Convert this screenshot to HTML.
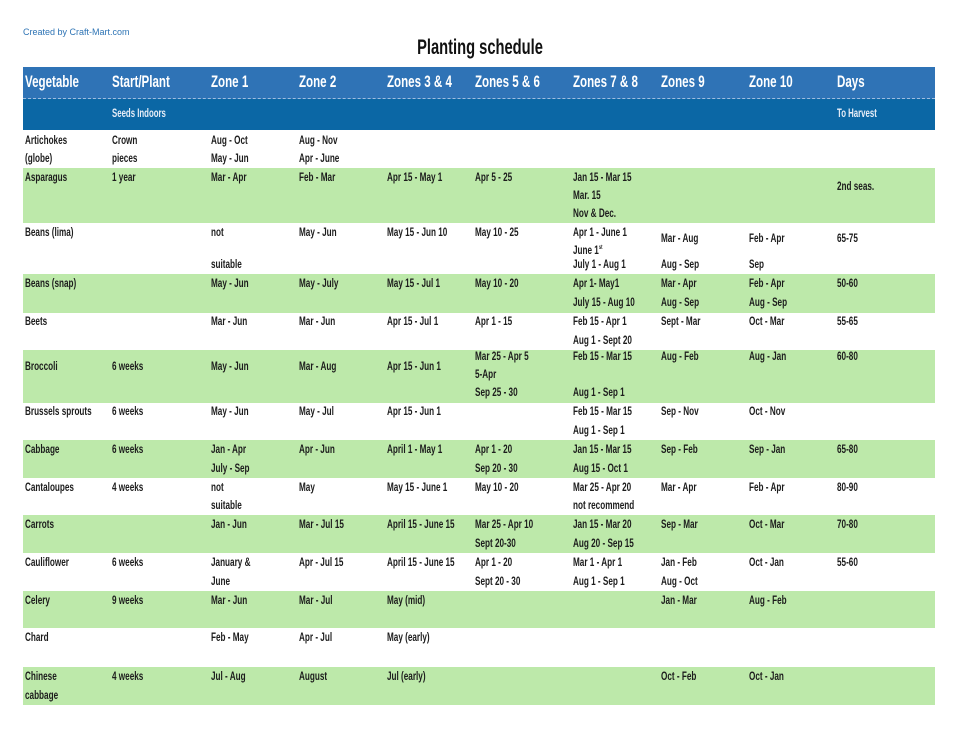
<!DOCTYPE html>
<html><head><meta charset="utf-8"><style>
body{margin:0;width:960px;height:742px;background:#fff;position:relative;overflow:hidden;font-family:"Liberation Sans Narrow","Liberation Sans",sans-serif;}
.a{position:absolute;}
.t,.h,.s{transform:scaleX(0.68);transform-origin:0 0}
.t{position:absolute;font-weight:bold;font-size:12px;line-height:14px;color:#1c1c1c;white-space:nowrap}
.h{position:absolute;font-weight:bold;font-size:17px;line-height:18px;color:#fff;white-space:nowrap}
.s{position:absolute;font-weight:bold;font-size:11.5px;line-height:14px;color:#e8eef8;white-space:nowrap}
.g{position:absolute;left:23px;width:912px;background:#bde9aa}
</style></head><body>
<div class="a" style="left:23px;top:27px;font-family:'Liberation Sans',sans-serif;font-size:9px;color:#2e74b5">Created by Craft-Mart.com</div>
<div class="a" style="left:0;width:960px;top:36px;text-align:center;font-weight:bold;font-size:21px;color:#111;transform:scaleX(0.7)">Planting schedule</div>
<div class="a" style="left:23px;top:67px;width:912px;height:32px;background:#2f73b6"></div>
<div class="a" style="left:23px;top:99px;width:912px;height:31px;background:#0b67a5"></div>
<div class="a" style="left:23px;top:98px;width:912px;border-top:1px dashed #9fbde0"></div>
<div class="h" style="left:25px;top:73px">Vegetable</div>
<div class="h" style="left:112px;top:73px">Start/Plant</div>
<div class="h" style="left:211px;top:73px">Zone 1</div>
<div class="h" style="left:299px;top:73px">Zone 2</div>
<div class="h" style="left:387px;top:73px">Zones 3 &amp; 4</div>
<div class="h" style="left:475px;top:73px">Zones 5 &amp; 6</div>
<div class="h" style="left:573px;top:73px">Zones 7 &amp; 8</div>
<div class="h" style="left:661px;top:73px">Zones 9</div>
<div class="h" style="left:749px;top:73px">Zone 10</div>
<div class="h" style="left:837px;top:73px">Days</div>
<div class="s" style="left:112px;top:107px">Seeds Indoors</div>
<div class="s" style="left:837px;top:107px">To Harvest</div>

<div class="g" style="top:168px;height:55px"></div>
<div class="g" style="top:274px;height:39px"></div>
<div class="g" style="top:350px;height:53px"></div>
<div class="g" style="top:440px;height:38px"></div>
<div class="g" style="top:515px;height:38px"></div>
<div class="g" style="top:591px;height:37px"></div>
<div class="g" style="top:667px;height:38px"></div>

<div class="t" style="left:25px;top:133px">Artichokes</div><div class="t" style="left:25px;top:151px">(globe)</div>
<div class="t" style="left:112px;top:133px">Crown</div><div class="t" style="left:112px;top:151px">pieces</div>
<div class="t" style="left:211px;top:133px">Aug - Oct</div><div class="t" style="left:211px;top:151px">May - Jun</div>
<div class="t" style="left:299px;top:133px">Aug - Nov</div><div class="t" style="left:299px;top:151px">Apr - June</div>

<div class="t" style="left:25px;top:170px">Asparagus</div>
<div class="t" style="left:112px;top:170px">1 year</div>
<div class="t" style="left:211px;top:170px">Mar - Apr</div>
<div class="t" style="left:299px;top:170px">Feb - Mar</div>
<div class="t" style="left:387px;top:170px">Apr 15 - May 1</div>
<div class="t" style="left:475px;top:170px">Apr 5 - 25</div>
<div class="t" style="left:573px;top:170px">Jan 15 - Mar 15</div>
<div class="t" style="left:573px;top:188px">Mar. 15</div>
<div class="t" style="left:573px;top:206px">Nov &amp; Dec.</div>
<div class="t" style="left:837px;top:179px">2nd seas.</div>

<div class="t" style="left:25px;top:225px">Beans (lima)</div>
<div class="t" style="left:211px;top:225px">not</div><div class="t" style="left:211px;top:257px">suitable</div>
<div class="t" style="left:299px;top:225px">May - Jun</div>
<div class="t" style="left:387px;top:225px">May 15 - Jun 10</div>
<div class="t" style="left:475px;top:225px">May 10 - 25</div>
<div class="t" style="left:573px;top:225px">Apr 1 - June 1</div>
<div class="t" style="left:573px;top:241px">June 1<sup style="font-size:6px">st</sup></div>
<div class="t" style="left:573px;top:257px">July 1 - Aug 1</div>
<div class="t" style="left:661px;top:231px">Mar - Aug</div><div class="t" style="left:661px;top:257px">Aug - Sep</div>
<div class="t" style="left:749px;top:231px">Feb - Apr</div><div class="t" style="left:749px;top:257px">Sep</div>
<div class="t" style="left:837px;top:231px">65-75</div>

<div class="t" style="left:25px;top:276px">Beans (snap)</div>
<div class="t" style="left:211px;top:276px">May - Jun</div>
<div class="t" style="left:299px;top:276px">May - July</div>
<div class="t" style="left:387px;top:276px">May 15 - Jul 1</div>
<div class="t" style="left:475px;top:276px">May 10 - 20</div>
<div class="t" style="left:573px;top:276px">Apr 1- May1</div><div class="t" style="left:573px;top:295px">July 15 - Aug 10</div>
<div class="t" style="left:661px;top:276px">Mar - Apr</div><div class="t" style="left:661px;top:295px">Aug - Sep</div>
<div class="t" style="left:749px;top:276px">Feb - Apr</div><div class="t" style="left:749px;top:295px">Aug - Sep</div>
<div class="t" style="left:837px;top:276px">50-60</div>

<div class="t" style="left:25px;top:314px">Beets</div>
<div class="t" style="left:211px;top:314px">Mar - Jun</div>
<div class="t" style="left:299px;top:314px">Mar - Jun</div>
<div class="t" style="left:387px;top:314px">Apr 15 - Jul 1</div>
<div class="t" style="left:475px;top:314px">Apr 1 - 15</div>
<div class="t" style="left:573px;top:314px">Feb 15 - Apr 1</div><div class="t" style="left:573px;top:333px">Aug 1 - Sept 20</div>
<div class="t" style="left:661px;top:314px">Sept - Mar</div>
<div class="t" style="left:749px;top:314px">Oct - Mar</div>
<div class="t" style="left:837px;top:314px">55-65</div>

<div class="t" style="left:25px;top:359px">Broccoli</div>
<div class="t" style="left:112px;top:359px">6 weeks</div>
<div class="t" style="left:211px;top:359px">May - Jun</div>
<div class="t" style="left:299px;top:359px">Mar - Aug</div>
<div class="t" style="left:387px;top:359px">Apr 15 - Jun 1</div>
<div class="t" style="left:475px;top:349px">Mar 25 - Apr 5</div>
<div class="t" style="left:475px;top:367px">5-Apr</div>
<div class="t" style="left:475px;top:385px">Sep 25 - 30</div>
<div class="t" style="left:573px;top:349px">Feb 15 - Mar 15</div><div class="t" style="left:573px;top:385px">Aug 1 - Sep 1</div>
<div class="t" style="left:661px;top:349px">Aug - Feb</div>
<div class="t" style="left:749px;top:349px">Aug - Jan</div>
<div class="t" style="left:837px;top:349px">60-80</div>

<div class="t" style="left:25px;top:404px">Brussels sprouts</div>
<div class="t" style="left:112px;top:404px">6 weeks</div>
<div class="t" style="left:211px;top:404px">May - Jun</div>
<div class="t" style="left:299px;top:404px">May - Jul</div>
<div class="t" style="left:387px;top:404px">Apr 15 - Jun 1</div>
<div class="t" style="left:573px;top:404px">Feb 15 - Mar 15</div><div class="t" style="left:573px;top:423px">Aug 1 - Sep 1</div>
<div class="t" style="left:661px;top:404px">Sep - Nov</div>
<div class="t" style="left:749px;top:404px">Oct - Nov</div>

<div class="t" style="left:25px;top:442px">Cabbage</div>
<div class="t" style="left:112px;top:442px">6 weeks</div>
<div class="t" style="left:211px;top:442px">Jan - Apr</div><div class="t" style="left:211px;top:461px">July - Sep</div>
<div class="t" style="left:299px;top:442px">Apr - Jun</div>
<div class="t" style="left:387px;top:442px">April 1 - May 1</div>
<div class="t" style="left:475px;top:442px">Apr 1 - 20</div><div class="t" style="left:475px;top:461px">Sep 20 - 30</div>
<div class="t" style="left:573px;top:442px">Jan 15 - Mar 15</div><div class="t" style="left:573px;top:461px">Aug 15 - Oct 1</div>
<div class="t" style="left:661px;top:442px">Sep - Feb</div>
<div class="t" style="left:749px;top:442px">Sep - Jan</div>
<div class="t" style="left:837px;top:442px">65-80</div>

<div class="t" style="left:25px;top:480px">Cantaloupes</div>
<div class="t" style="left:112px;top:480px">4 weeks</div>
<div class="t" style="left:211px;top:480px">not</div><div class="t" style="left:211px;top:498px">suitable</div>
<div class="t" style="left:299px;top:480px">May</div>
<div class="t" style="left:387px;top:480px">May 15 - June 1</div>
<div class="t" style="left:475px;top:480px">May 10 - 20</div>
<div class="t" style="left:573px;top:480px">Mar 25 - Apr 20</div><div class="t" style="left:573px;top:498px">not recommend</div>
<div class="t" style="left:661px;top:480px">Mar - Apr</div>
<div class="t" style="left:749px;top:480px">Feb - Apr</div>
<div class="t" style="left:837px;top:480px">80-90</div>

<div class="t" style="left:25px;top:517px">Carrots</div>
<div class="t" style="left:211px;top:517px">Jan - Jun</div>
<div class="t" style="left:299px;top:517px">Mar - Jul 15</div>
<div class="t" style="left:387px;top:517px">April 15 - June 15</div>
<div class="t" style="left:475px;top:517px">Mar 25 - Apr 10</div><div class="t" style="left:475px;top:536px">Sept 20-30</div>
<div class="t" style="left:573px;top:517px">Jan 15 - Mar 20</div><div class="t" style="left:573px;top:536px">Aug 20 - Sep 15</div>
<div class="t" style="left:661px;top:517px">Sep - Mar</div>
<div class="t" style="left:749px;top:517px">Oct - Mar</div>
<div class="t" style="left:837px;top:517px">70-80</div>

<div class="t" style="left:25px;top:555px">Cauliflower</div>
<div class="t" style="left:112px;top:555px">6 weeks</div>
<div class="t" style="left:211px;top:555px">January &amp;</div><div class="t" style="left:211px;top:574px">June</div>
<div class="t" style="left:299px;top:555px">Apr - Jul 15</div>
<div class="t" style="left:387px;top:555px">April 15 - June 15</div>
<div class="t" style="left:475px;top:555px">Apr 1 - 20</div><div class="t" style="left:475px;top:574px">Sept 20 - 30</div>
<div class="t" style="left:573px;top:555px">Mar 1 - Apr 1</div><div class="t" style="left:573px;top:574px">Aug 1 - Sep 1</div>
<div class="t" style="left:661px;top:555px">Jan - Feb</div><div class="t" style="left:661px;top:574px">Aug - Oct</div>
<div class="t" style="left:749px;top:555px">Oct - Jan</div>
<div class="t" style="left:837px;top:555px">55-60</div>

<div class="t" style="left:25px;top:593px">Celery</div>
<div class="t" style="left:112px;top:593px">9 weeks</div>
<div class="t" style="left:211px;top:593px">Mar - Jun</div>
<div class="t" style="left:299px;top:593px">Mar - Jul</div>
<div class="t" style="left:387px;top:593px">May (mid)</div>
<div class="t" style="left:661px;top:593px">Jan - Mar</div>
<div class="t" style="left:749px;top:593px">Aug - Feb</div>

<div class="t" style="left:25px;top:630px">Chard</div>
<div class="t" style="left:211px;top:630px">Feb - May</div>
<div class="t" style="left:299px;top:630px">Apr - Jul</div>
<div class="t" style="left:387px;top:630px">May (early)</div>

<div class="t" style="left:25px;top:669px">Chinese</div><div class="t" style="left:25px;top:688px">cabbage</div>
<div class="t" style="left:112px;top:669px">4 weeks</div>
<div class="t" style="left:211px;top:669px">Jul - Aug</div>
<div class="t" style="left:299px;top:669px">August</div>
<div class="t" style="left:387px;top:669px">Jul (early)</div>
<div class="t" style="left:661px;top:669px">Oct - Feb</div>
<div class="t" style="left:749px;top:669px">Oct - Jan</div>
</body></html>
